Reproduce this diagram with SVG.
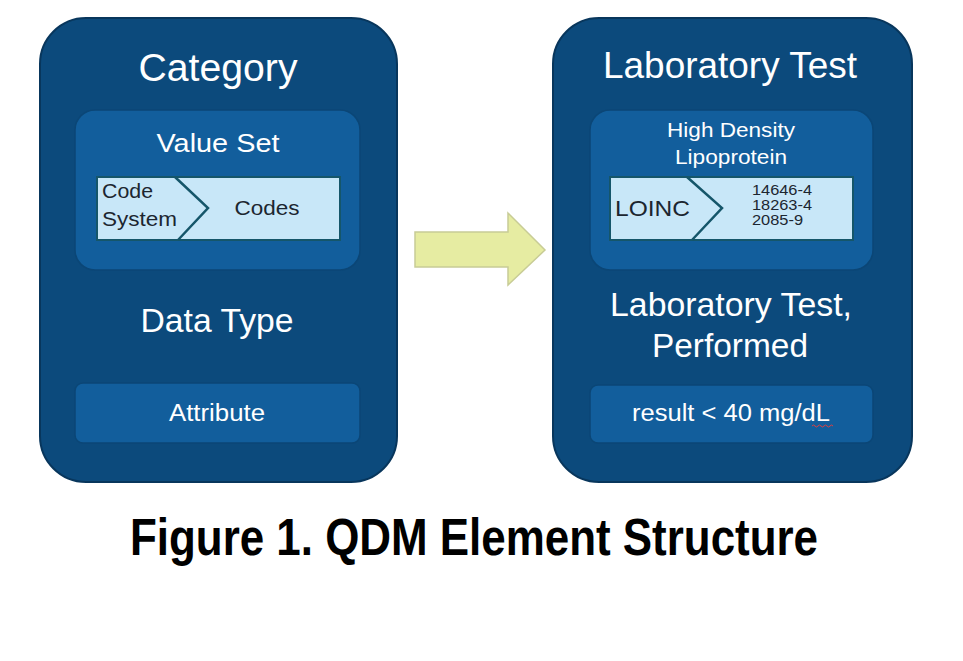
<svg xmlns="http://www.w3.org/2000/svg" width="963" height="661" viewBox="0 0 963 661">
<style>
.outer{fill:#0c4a7c;stroke:#08365c;stroke-width:2}
.inner{fill:#125e9c;stroke:#0b4676;stroke-width:1.5}
.light{fill:#c8e7f8;stroke:#15566a;stroke-width:2}
.chev{fill:none;stroke:#15566a;stroke-width:2.5}
.w{fill:#ffffff;font-family:"Liberation Sans",Arial,sans-serif;text-anchor:middle}
.d{fill:#1c2630;font-family:"Liberation Sans",Arial,sans-serif}
</style>
<rect width="963" height="661" fill="#ffffff"/>
<g id="category">
<rect class="outer" x="40" y="18" width="357" height="464" rx="46"/>
<text class="w" x="218" y="81" font-size="39" textLength="159" lengthAdjust="spacingAndGlyphs">Category</text>
</g>
<g id="valueset">
<rect class="inner" x="75" y="110" width="285" height="160" rx="20"/>
<text class="w" x="218" y="152" font-size="26" textLength="123" lengthAdjust="spacingAndGlyphs">Value Set</text>
<rect class="light" x="97" y="177" width="243" height="63"/>
<path class="chev" d="M175 177 L208 208 L178 240"/>
<text class="d" x="102" y="198" font-size="21" textLength="51" lengthAdjust="spacingAndGlyphs">Code</text>
<text class="d" x="102" y="226" font-size="21" textLength="75" lengthAdjust="spacingAndGlyphs">System</text>
<text class="d" x="267" y="215" font-size="21" text-anchor="middle" textLength="65" lengthAdjust="spacingAndGlyphs">Codes</text>
</g>
<g id="datatype">
<text class="w" x="217" y="332" font-size="34" textLength="153" lengthAdjust="spacingAndGlyphs">Data Type</text>
</g>
<g id="attribute">
<rect class="inner" x="75" y="383" width="285" height="60" rx="8"/>
<text class="w" x="217" y="421" font-size="23" textLength="96" lengthAdjust="spacingAndGlyphs">Attribute</text>
</g>
<g id="labtest">
<rect class="outer" x="553" y="18" width="359" height="464" rx="46"/>
<text class="w" x="730" y="78" font-size="37" textLength="254" lengthAdjust="spacingAndGlyphs">Laboratory Test</text>
</g>
<g id="hdl">
<rect class="inner" x="590" y="110" width="283" height="160" rx="20"/>
<text class="w" x="731" y="137" font-size="21" textLength="128" lengthAdjust="spacingAndGlyphs">High Density</text>
<text class="w" x="731" y="164" font-size="21" textLength="112" lengthAdjust="spacingAndGlyphs">Lipoprotein</text>
<rect class="light" x="610" y="177" width="243" height="63"/>
<path class="chev" d="M687 177 L722 208 L692 240"/>
<text class="d" x="615" y="216" font-size="22" textLength="75" lengthAdjust="spacingAndGlyphs">LOINC</text>
<text class="d" x="752" y="195" font-size="14" textLength="60" lengthAdjust="spacingAndGlyphs">14646-4</text>
<text class="d" x="752" y="210" font-size="14" textLength="60" lengthAdjust="spacingAndGlyphs">18263-4</text>
<text class="d" x="752" y="225" font-size="14" textLength="51" lengthAdjust="spacingAndGlyphs">2085-9</text>
</g>
<g id="performed">
<text class="w" x="731" y="316" font-size="33" textLength="242" lengthAdjust="spacingAndGlyphs">Laboratory Test,</text>
<text class="w" x="730" y="357" font-size="33" textLength="156" lengthAdjust="spacingAndGlyphs">Performed</text>
</g>
<g id="result">
<rect class="inner" x="590" y="385" width="283" height="58" rx="8"/>
<text class="w" x="731" y="421" font-size="23" textLength="198" lengthAdjust="spacingAndGlyphs">result &lt; 40 mg/dL</text>
<path d="M812 426 q1.5 -2 3 0 t3 0 t3 0 t3 0 t3 0 t3 0 t3 0" fill="none" stroke="#e04040" stroke-width="1"/>
</g>
<g id="connectors">
<path d="M415 232 L508 232 L508 213 L545 250 L508 285 L508 267 L415 267 Z" fill="#e6eca2" stroke="#c8cc96" stroke-width="1.5"/>
</g>
<g id="caption">
<text x="474" y="555" font-size="52" font-weight="bold" font-family="'Liberation Sans',Arial,sans-serif" text-anchor="middle" textLength="688" lengthAdjust="spacingAndGlyphs" fill="#000000">Figure 1. QDM Element Structure</text>
</g>
</svg>
